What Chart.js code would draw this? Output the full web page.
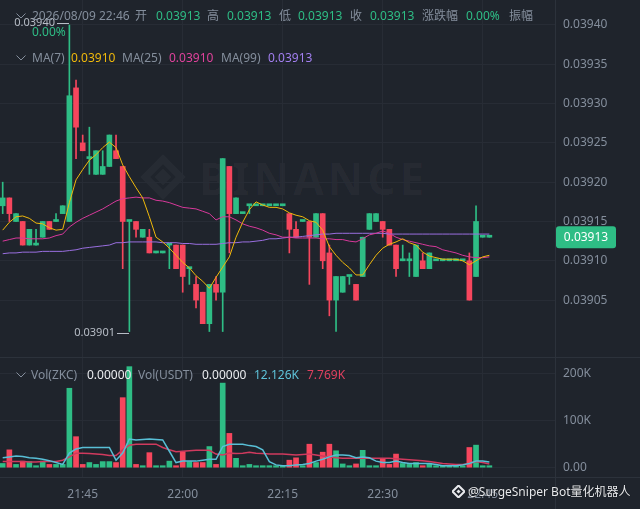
<!DOCTYPE html>
<html><head><meta charset="utf-8">
<script src="https://cdn.jsdelivr.net/npm/chart.js@4.4.1/dist/chart.umd.min.js"></script>
<style>
html,body{margin:0;padding:0;background:#1f242c;}
#wrap{position:relative;width:640px;height:509px;background:#1f242c;overflow:hidden;font-family:"Noto Sans","Noto Sans CJK SC",sans-serif;}
canvas{position:absolute;left:0;}
.t{position:absolute;font-size:12px;color:#848e9c;white-space:nowrap;line-height:16px;}
.g{color:#2ebd85}.w{color:#eaecef}
.chev{position:absolute;}
.sep{position:absolute;background:#2c323b;}
#wm{position:absolute;left:199px;top:148px;font-size:44px;font-weight:700;letter-spacing:4px;color:rgba(255,255,255,0.035);font-family:"Noto Sans",sans-serif;}
#logo{position:absolute;left:147px;top:161px;width:32px;height:32px;transform:rotate(45deg);border:7px solid rgba(255,255,255,0.035);box-sizing:border-box;}
#logo2{position:absolute;left:157px;top:171px;width:12px;height:12px;transform:rotate(45deg);background:rgba(255,255,255,0.035);}
#sig{position:absolute;left:452px;top:483px;font-size:12px;line-height:17px;color:#e8eaed;text-shadow:0 0 1px #000;white-space:nowrap;}
</style></head>
<body><div id="wrap">
<div id="logo"></div><div id="logo2"></div><div id="wm">BINANCE</div>
<canvas id="pc" width="640" height="357" style="top:0"></canvas>
<canvas id="vc" width="640" height="152" style="top:357px"></canvas>
<div class="sep" style="left:555px;top:0;width:1px;height:509px"></div>
<div class="sep" style="left:0;top:357px;width:640px;height:1px"></div>
<div class="sep" style="left:0;top:477px;width:640px;height:1px"></div>

<svg class="chev" style="left:16px;top:13px" width="10" height="6"><polyline points="0.5,0.5 5,5 9.5,0.5" stroke="#848e9c" fill="none"/></svg>
<div class="t" style="left:32px;top:8px">2026/08/09 22:46</div>
<div class="t" style="left:135px;top:8px">开</div><div class="t g" style="left:156px;top:8px">0.03913</div>
<div class="t" style="left:207px;top:8px">高</div><div class="t g" style="left:227px;top:8px">0.03913</div>
<div class="t" style="left:279px;top:8px">低</div><div class="t g" style="left:298px;top:8px">0.03913</div>
<div class="t" style="left:350px;top:8px">收</div><div class="t g" style="left:370px;top:8px">0.03913</div>
<div class="t" style="left:422px;top:8px">涨跌幅</div><div class="t g" style="left:466px;top:8px">0.00%</div>
<div class="t" style="left:509px;top:8px">振幅</div>
<div class="t g" style="left:32px;top:24px">0.00%</div>

<svg class="chev" style="left:16px;top:55px" width="10" height="6"><polyline points="0.5,0.5 5,5 9.5,0.5" stroke="#848e9c" fill="none"/></svg>
<div class="t" style="left:32px;top:50px">MA(7)</div><div class="t" style="left:71px;top:50px;color:#f0b90b">0.03910</div>
<div class="t" style="left:122px;top:50px">MA(25)</div><div class="t" style="left:169px;top:50px;color:#e0429c">0.03910</div>
<div class="t" style="left:221px;top:50px">MA(99)</div><div class="t" style="left:268px;top:50px;color:#a27ff0">0.03913</div>

<svg class="chev" style="left:16px;top:372px" width="10" height="6"><polyline points="0.5,0.5 5,5 9.5,0.5" stroke="#848e9c" fill="none"/></svg>
<div class="t" style="left:31px;top:367px">Vol(ZKC)</div><div class="t w" style="left:87px;top:367px">0.00000</div>
<div class="t" style="left:138px;top:367px">Vol(USDT)</div><div class="t w" style="left:202px;top:367px">0.00000</div>
<div class="t" style="left:254px;top:367px;color:#5ec3d9">12.126K</div><div class="t" style="left:307px;top:367px;color:#e0405f">7.769K</div>

<div id="sig"><svg width="13" height="13" style="vertical-align:-2px;margin-right:3px"><path d="M6.5 0.5 L12.5 6.5 L6.5 12.5 L0.5 6.5 Z" fill="none" stroke="#e8eaed" stroke-width="2"/><rect x="5" y="5" width="3" height="3" fill="#e8eaed" transform="rotate(45 6.5 6.5)"/></svg>@SurgeSniper Bot量化机器人</div>
</div>
<script>
const tickIdx = [12, 27, 42, 57, 72];
const tickLabels = ['21:45', '22:00', '22:15', '22:30', '22:45'];
const priceTicks = [0.03905, 0.03910, 0.03915, 0.03920, 0.03925, 0.03930, 0.03935, 0.03940];
const volTicks = [0, 100000, 200000];
const volTickLabels = ['0.00', '100K', '200K'];

const openP = [0.03917,0.03918,0.03915,0.03915,0.03912,0.03912,0.03913,0.03915,0.03915,0.03916,
0.03915,0.03932,0.03925,0.03923,0.03921,0.03921,0.03922,0.03924,0.03922,0.03915,
0.03915,0.03913,0.03913,0.03911,0.03911,0.03912,0.03912,0.03912,0.03909,0.03907,
0.03906,0.03902,0.03907,0.03906,0.03922,0.03916,0.03916,0.03917,0.03917,0.03917,
0.03917,0.03917,0.03917,0.03916,0.03914,0.03915,0.03915,0.03913,0.03916,0.03911,
0.03905,0.03906,0.03908,0.03907,0.03908,0.03914,0.03915,0.03915,0.03914,0.03912,
0.03910,0.03910,0.03908,0.03910,0.03909,0.03910,0.03910,0.03910,0.03910,0.03910,
0.03910,0.03908,0.03913,0.03913];
const highP = [0.03920,0.03918,0.03916,0.03915,0.03914,0.03914,0.03915,0.03915,0.03916,0.03917,
0.03940,0.03933,0.03926,0.03927,0.03924,0.03924,0.03926,0.03926,0.03922,0.03915,
0.03915,0.03914,0.03914,0.03911,0.03911,0.03912,0.03912,0.03912,0.03909,0.03908,
0.03906,0.03907,0.03908,0.03923,0.03922,0.03918,0.03916,0.03917,0.03917,0.03917,
0.03917,0.03917,0.03917,0.03916,0.03915,0.03915,0.03915,0.03916,0.03916,0.03912,
0.03908,0.03908,0.03908,0.03907,0.03913,0.03916,0.03916,0.03915,0.03914,0.03912,
0.03912,0.03911,0.03912,0.03911,0.03911,0.03910,0.03910,0.03910,0.03910,0.03910,
0.03911,0.03917,0.03913,0.03913];
const lowP = [0.03916,0.03915,0.03915,0.03912,0.03912,0.03912,0.03913,0.03914,0.03915,0.03916,
0.03915,0.03923,0.03924,0.03921,0.03921,0.03921,0.03922,0.03923,0.03909,0.03901,
0.03913,0.03913,0.03911,0.03911,0.03911,0.03909,0.03909,0.03906,0.03907,0.03904,
0.03902,0.03901,0.03905,0.03901,0.03911,0.03916,0.03916,0.03916,0.03917,0.03917,
0.03917,0.03917,0.03917,0.03911,0.03913,0.03915,0.03907,0.03913,0.03909,0.03903,
0.03901,0.03906,0.03907,0.03905,0.03908,0.03914,0.03915,0.03913,0.03912,0.03908,
0.03910,0.03908,0.03908,0.03909,0.03909,0.03910,0.03910,0.03910,0.03910,0.03910,
0.03905,0.03908,0.03913,0.03913];
const closeP = [0.03918,0.03916,0.03916,0.03912,0.03914,0.03912,0.03915,0.03914,0.03915,0.03917,
0.03931,0.03927,0.03924,0.03923,0.03924,0.03922,0.03926,0.03923,0.03915,0.03915,
0.03914,0.03914,0.03911,0.03911,0.03911,0.03912,0.03909,0.03908,0.03909,0.03905,
0.03902,0.03907,0.03906,0.03923,0.03916,0.03918,0.03916,0.03917,0.03917,0.03917,
0.03917,0.03917,0.03917,0.03914,0.03913,0.03915,0.03913,0.03916,0.03910,0.03905,
0.03908,0.03908,0.03908,0.03905,0.03913,0.03916,0.03916,0.03914,0.03912,0.03909,
0.03910,0.03910,0.03912,0.03909,0.03911,0.03910,0.03910,0.03910,0.03910,0.03910,
0.03905,0.03915,0.03913,0.03913];

const ma7 = [0.039139,0.039149,0.039156,0.039157,0.039154,0.039148,0.039147,0.039142,0.039139,0.039140,
0.039174,0.039203,0.039216,0.039228,0.039235,0.039244,0.039251,0.039244,0.039222,0.039207,
0.039193,0.039180,0.039156,0.039130,0.039124,0.039116,0.039107,0.039098,0.039091,0.039081,
0.039074,0.039065,0.039079,0.039092,0.039105,0.039130,0.039149,0.039165,0.039175,0.039171,
0.039168,0.039168,0.039166,0.039161,0.039158,0.039156,0.039151,0.039149,0.039139,0.039118,
0.039107,0.039098,0.039091,0.039082,0.039082,0.039095,0.039107,0.039116,0.039121,0.039124,
0.039128,0.039123,0.039120,0.039111,0.039106,0.039104,0.039102,0.039102,0.039102,0.039100,
0.039095,0.039100,0.039105,0.039107];
const ma25 = [0.039125,0.039127,0.039129,0.039129,0.039128,0.039128,0.039128,0.039129,0.039132,0.039134,
0.039143,0.039149,0.039154,0.039158,0.039162,0.039166,0.039171,0.039176,0.039179,0.039180,
0.039181,0.039180,0.039180,0.039177,0.039176,0.039174,0.039171,0.039168,0.039167,0.039166,
0.039163,0.039160,0.039152,0.039156,0.039156,0.039152,0.039147,0.039144,0.039142,0.039139,
0.039135,0.039133,0.039130,0.039130,0.039129,0.039129,0.039129,0.039129,0.039128,0.039128,
0.039127,0.039127,0.039125,0.039124,0.039128,0.039133,0.039135,0.039138,0.039135,0.039130,
0.039127,0.039125,0.039123,0.039121,0.039119,0.039118,0.039114,0.039112,0.039110,0.039107,
0.039105,0.039104,0.039104,0.039105];
const ma99 = [0.039109,0.039110,0.039110,0.039111,0.039111,0.039111,0.039112,0.039112,0.039112,0.039112,
0.039113,0.039114,0.039116,0.039117,0.039118,0.039119,0.039120,0.039123,0.039123,0.039124,
0.039124,0.039124,0.039124,0.039124,0.039123,0.039123,0.039123,0.039122,0.039122,0.039121,
0.039121,0.039121,0.039121,0.039122,0.039123,0.039123,0.039124,0.039124,0.039125,0.039126,
0.039128,0.039128,0.039129,0.039130,0.039130,0.039131,0.039132,0.039133,0.039134,0.039134,
0.039135,0.039135,0.039135,0.039135,0.039135,0.039135,0.039135,0.039135,0.039134,0.039134,
0.039134,0.039134,0.039134,0.039134,0.039134,0.039134,0.039134,0.039134,0.039134,0.039134,
0.039134,0.039134,0.039134,0.039134];

const volK = [9,38,7,14,13,4,14,7,7,7,
169,66,7,11,7,13,13,11,149,215,
7,4,32,3,4,14,4,34,13,11,
11,45,7,180,73,20,4,7,2,2,
2,3,2,16,21,4,50,11,33,50,
36,8,3,8,37,4,3,20,7,29,
9,7,11,3,8,3,3,3,3,3,
43,48,2,2];
const volMaA = [21,23,25,24,21,20,18,15,11,7,
31,40,43,43,43,43,43,16,31,61,
59,60,61,60,59,35,11,14,14,14,
16,18,18,45,50,50,50,47,45,38,
13,6,4,4,6,7,9,14,18,23,
27,27,26,21,23,21,14,11,11,14,
11,9,9,9,9,7,4,4,4,6,
9,14,14,12.1];
const volMaB = [13,13,13,13,12,12,13,13,13,16,
23,31,31,30,29,28,26,26,38,48,
50,50,50,50,43,38,34,35,36,37,
37,37,29,27,31,30,31,33,31,30,
29,29,29,28,27,28,29,27,25,23,
21,20,20,20,20,20,20,20,20,19,
18,17,16,15,13,11,9,8,7,7,
9,13,11,7.8];

const UP = '#2ebd85', DOWN = '#f6465d';
const GRID = '#272c35', TXT = '#848e9c';
const colors = closeP.map((c, i) => c >= openP[i] ? UP : DOWN);
Chart.defaults.font.family = '"Noto Sans","Noto Sans CJK SC",sans-serif';
Chart.defaults.font.size = 12;

const xMin = -0.405, xMax = 82.845;
function xScale(showLabels) {
  return {
    type: 'linear', min: xMin, max: xMax, offset: false,
    grid: { color: GRID, offset: false, drawTicks: false },
    border: { display: false },
    ticks: { display: showLabels, color: TXT, padding: 10, maxRotation: 0, autoSkip: false,
      callback: v => { const k = tickIdx.indexOf(v); return k >= 0 ? tickLabels[k] : ''; } },
    afterBuildTicks: s => { s.ticks = tickIdx.map(v => ({ value: v })); },
    afterFit: s => { s.height = showLabels ? 32 : 0; s.paddingLeft = 0; s.paddingRight = 0; }
  };
}
const pts = arr => arr.map((v, i) => ({ x: i, y: v }));

const markerPlugin = {
  id: 'marker',
  afterDraw(chart) {
    const { ctx, scales: { x, y } } = chart;
    let hi = 0, lo = 0;
    highP.forEach((v, i) => { if (v > highP[hi]) hi = i; });
    lowP.forEach((v, i) => { if (v < lowP[lo]) lo = i; });
    ctx.save();
    ctx.font = '11px "Noto Sans"';
    ctx.fillStyle = '#b7bdc6'; ctx.strokeStyle = '#b7bdc6'; ctx.lineWidth = 1;
    ctx.textAlign = 'right'; ctx.textBaseline = 'middle';
    [[hi, highP[hi], -2], [lo, lowP[lo], 1]].forEach(([i, v, dy]) => {
      const px = Math.round(x.getPixelForValue(i)), py = Math.round(y.getPixelForValue(v)) + dy;
      ctx.beginPath(); ctx.moveTo(px - 12, py + 0.5); ctx.lineTo(px, py + 0.5); ctx.stroke();
      ctx.fillText(v.toFixed(5), px - 14, py);
    });
    const last = closeP[closeP.length - 1];
    const ty = y.getPixelForValue(last);
    ctx.fillStyle = UP;
    ctx.beginPath();
    if (ctx.roundRect) ctx.roundRect(556, ty - 11, 60, 22, 3); else ctx.rect(556, ty - 11, 60, 22);
    ctx.fill();
    ctx.fillStyle = '#ffffff'; ctx.textAlign = 'center'; ctx.font = '12px "Noto Sans"';
    ctx.fillText(last.toFixed(5), 586, ty + 0.5);
    ctx.restore();
  }
};

new Chart(document.getElementById('pc'), {
  type: 'bar',
  data: { datasets: [
    { type: 'line', data: pts(ma7), borderColor: '#f0b90b', borderWidth: 1, pointRadius: 0, tension: 0, order: 0 },
    { type: 'line', data: pts(ma25), borderColor: '#d8399b', borderWidth: 1, pointRadius: 0, tension: 0, order: 0 },
    { type: 'line', data: pts(ma99), borderColor: '#9a6fe0', borderWidth: 1, pointRadius: 0, tension: 0, order: 0 },
    { type: 'bar', data: openP.map((o, i) => ({ x: i, y: [o, closeP[i]] })), backgroundColor: colors,
      barThickness: 5, minBarLength: 2, grouped: false, borderWidth: 0, order: 1 },
    { type: 'bar', data: lowP.map((l, i) => ({ x: i, y: [l, highP[i]] })), backgroundColor: colors,
      barThickness: 1, grouped: false, borderWidth: 0, order: 2 }
  ] },
  options: {
    responsive: false, animation: false, events: [],
    layout: { padding: 0 },
    plugins: { legend: { display: false }, tooltip: { enabled: false } },
    scales: {
      x: xScale(false),
      y: {
        position: 'right', min: 0.0389776, max: 0.0394318,
        grid: { color: GRID, drawTicks: false }, border: { display: false },
        ticks: { color: TXT, padding: 8, callback: v => Number(v).toFixed(5) },
        afterBuildTicks: s => { s.ticks = priceTicks.map(v => ({ value: v })); },
        afterFit: s => { s.width = 85; s.paddingTop = 0; s.paddingBottom = 0; }
      }
    }
  },
  plugins: [markerPlugin]
});

new Chart(document.getElementById('vc'), {
  type: 'bar',
  data: { datasets: [
    { type: 'line', data: pts(volMaA.map(v => v * 1000)), borderColor: '#58bfd6', borderWidth: 1.5, pointRadius: 0, tension: 0, order: 0 },
    { type: 'line', data: pts(volMaB.map(v => v * 1000)), borderColor: '#d03a5e', borderWidth: 1.5, pointRadius: 0, tension: 0, order: 0 },
    { type: 'bar', data: pts(volK.map(v => v * 1000)), backgroundColor: colors,
      barThickness: 5, minBarLength: 2, grouped: false, borderWidth: 0, order: 1 }
  ] },
  options: {
    responsive: false, animation: false, events: [],
    layout: { padding: 0 },
    plugins: { legend: { display: false }, tooltip: { enabled: false } },
    scales: {
      x: xScale(true),
      y: {
        position: 'right', min: -19787, max: 235532,
        grid: { color: GRID, drawTicks: false }, border: { display: false },
        ticks: { color: TXT, padding: 8, callback: v => { const k = volTicks.indexOf(v); return k >= 0 ? volTickLabels[k] : ''; } },
        afterBuildTicks: s => { s.ticks = volTicks.map(v => ({ value: v })); },
        afterFit: s => { s.width = 85; s.paddingTop = 0; s.paddingBottom = 0; }
      }
    }
  }
});
</script>
</body></html>
